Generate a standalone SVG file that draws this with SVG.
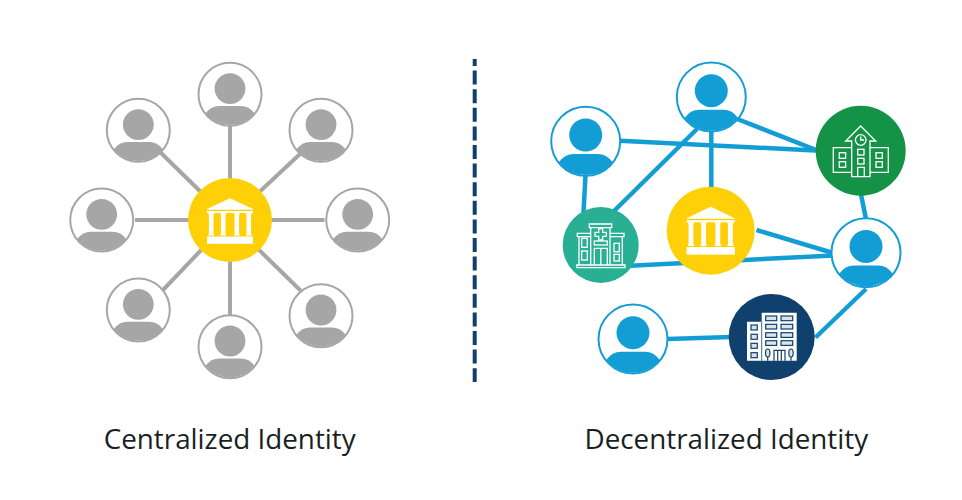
<svg xmlns="http://www.w3.org/2000/svg" width="962" height="500" viewBox="0 0 962 500">
<style>
.lbl{font-family:"Open Sans","Noto Sans",sans-serif;font-size:27.8px;fill:#1a1f24;text-anchor:middle}
.cg{stroke:#a6a6a6;stroke-width:4;fill:none}
.cb{stroke:#129ed5;stroke-width:4.5;fill:none}
.ring{fill:#fff;stroke-width:2}
.ic{fill:none;stroke:#fff;stroke-width:1.3}
.win{fill:#dbe3ea;stroke:#10406d;stroke-width:1.2}
.gray{color:#a6a6a6}
.blue{color:#129ed5}
</style>
<defs>
<g id="p32">
<circle r="31.5" class="ring" stroke="currentColor"/>
<circle cy="-5.7" r="15.4" fill="currentColor"/>
<path d="M-24.5 19Q-19 11.7-11 11.7H11Q19 11.7 24.5 19A31.5 31.5 0 0 1-24.5 19Z" fill="currentColor"/>
</g>
<g id="p35">
<circle r="34.5" class="ring" stroke="currentColor"/>
<circle cy="-6.300" r="16.500" fill="currentColor"/>
<path d="M-26.800 21Q-21 12.700-12 12.700H12Q21 12.700 26.800 21A34.500 34.500 0 0 1-26.800 21Z" fill="currentColor"/>
</g>
<g id="bank" fill="#fff">
<path d="M0-22.300L23-11.500V-10.800H-23V-11.500Z"/>
<rect x="-23" y="-9.500" width="46" height="2"/>
<path d="M-21.800-7.500H-15.800L-16.500-5.500V12.500L-15.800 15H-21.800L-21.100 12.500V-5.500ZM-9.800-7.500H-3.800L-4.500-5.500V12.500L-3.800 15H-9.800L-9.100 12.500V-5.500ZM3.800-7.500H9.800L9.100-5.500V12.500L9.800 15H3.800L4.500 12.500V-5.500ZM15.800-7.500H21.800L21.100-5.500V12.500L21.800 15H15.800L16.500 12.500V-5.500Z"/>
<rect x="-23" y="16" width="46" height="7.300"/>
</g>
</defs>
<g id="connectors">
<g class="cg">
<line x1="230" y1="120" x2="230" y2="185"/>
<line x1="230" y1="255" x2="230" y2="318"/>
<line x1="135" y1="220" x2="195" y2="220"/>
<line x1="265" y1="220" x2="324.500" y2="220"/>
<line x1="160" y1="152" x2="205" y2="196"/>
<line x1="300" y1="154" x2="255" y2="196"/>
<line x1="163" y1="290" x2="205" y2="246"/>
<line x1="300.500" y1="290.500" x2="255" y2="246"/>
</g>
<g class="cb">
<line x1="620" y1="140.700" x2="820" y2="150.700"/>
<line x1="736" y1="118.500" x2="820" y2="151.500"/>
<line x1="697" y1="129" x2="612" y2="213"/>
<line x1="711.300" y1="130" x2="711.300" y2="192"/>
<line x1="585.500" y1="175" x2="583.500" y2="213"/>
<line x1="860.500" y1="192" x2="866" y2="219"/>
<line x1="756.500" y1="230" x2="833" y2="253"/>
<line x1="630" y1="265.800" x2="833" y2="255.500"/>
<line x1="866" y1="289" x2="815.500" y2="337.500"/>
<line x1="667" y1="339" x2="731" y2="337"/>
</g>
<line x1="474.700" y1="59" x2="474.700" y2="382" stroke="#0f3f6e" stroke-width="4" stroke-dasharray="14 4.600" stroke-dashoffset="7"/>
</g>
<g id="user-c1" class="gray"><use href="#p32" x="230" y="94.300"/></g>
<g id="user-c2" class="gray"><use href="#p32" x="138.300" y="130.300"/></g>
<g id="user-c3" class="gray"><use href="#p32" x="321" y="130.300"/></g>
<g id="user-c4" class="gray"><use href="#p32" x="101.700" y="220"/></g>
<g id="user-c5" class="gray"><use href="#p32" x="357.700" y="220"/></g>
<g id="user-c6" class="gray"><use href="#p32" x="138.300" y="310"/></g>
<g id="user-c7" class="gray"><use href="#p32" x="321" y="315.700"/></g>
<g id="user-c8" class="gray"><use href="#p32" x="230" y="346.700"/></g>
<g id="bank-c"><circle cx="230" cy="220" r="42" fill="#ffd008"/><use href="#bank" x="230" y="220.500"/></g>
<g id="user-d1" class="blue"><use href="#p35" x="711.300" y="97"/></g>
<g id="user-d2" class="blue"><use href="#p35" x="585.700" y="141.300"/></g>
<g id="user-d3" class="blue"><use href="#p35" x="866" y="252.700"/></g>
<g id="user-d4" class="blue"><use href="#p35" x="633" y="339"/></g>
<g id="bank-d"><circle cx="710.700" cy="230.700" r="44" fill="#ffd008"/><use href="#bank" transform="translate(710.700 230.200) scale(1.050)"/></g>
<g id="school"><circle cx="860.700" cy="150.700" r="45" fill="#149347"/>
<g class="ic">
<path d="M851.700 176.700V141H845.700L860.700 126L875.700 141H870V176.700ZM851.700 147.700H833.300V172.300H851.700M870 147.700H888.300V172.300H870"/>
<circle cx="860.700" cy="140" r="5.300"/><path d="M860.700 136.500V140H864"/>
<rect x="857.700" y="149.300" width="6.300" height="5.700"/><rect x="857.700" y="158.300" width="6.300" height="5.700"/>
<path d="M857.700 176.700V167.300H864.300V176.700"/>
<rect x="839.300" y="152.700" width="6.300" height="5.600"/><rect x="839.300" y="161.700" width="6.300" height="5.600"/>
<rect x="876" y="152.700" width="6.300" height="5.600"/><rect x="876" y="161.700" width="6.300" height="5.600"/>
</g></g>
<g id="hospital"><circle cx="600.700" cy="245" r="38" fill="#29b094"/>
<g class="ic">
<path d="M590.700 227.700V265M610 227.700V265M589.300 224H611.700V227.700H589.300ZM577.300 233.300H590.700V236.700H577.300ZM610 233.300H624V236.700H610ZM579 236.700V265M622.300 236.700V265M576.700 265H625V267.700H576.700Z"/>
<path d="M598.700 228.700H602.700V232.300H606.300V236.300H602.700V240H598.700V236.300H595V232.300H598.700Z"/>
<rect x="594.300" y="241" width="13" height="4"/>
<path d="M594.300 265V248.300H607.300V265M600.800 248.300V265"/>
<rect x="581.700" y="238.300" width="5.600" height="9"/><rect x="581.700" y="251" width="5.600" height="9"/>
<rect x="614" y="243.300" width="5.300" height="8.400"/><rect x="614" y="254.300" width="5.300" height="6.700"/>
</g></g>
<g id="office"><circle cx="771.700" cy="337" r="43" fill="#10406d"/>
<path d="M761.700 312.700H796.700V360.700H761.700ZM747 321.700H761.700V360.700H747Z" fill="#fff"/>
<path d="M761.700 321.700V360.700" stroke="#10406d" stroke-width="0.800"/>
<g class="win">
<rect x="765.700" y="316" width="11" height="4.700"/><rect x="781" y="316" width="11.700" height="4.700"/>
<rect x="765.700" y="324.300" width="11" height="4.700"/><rect x="781" y="324.300" width="11.700" height="4.700"/>
<rect x="765.700" y="332.700" width="11" height="4.700"/><rect x="781" y="332.700" width="11.700" height="4.700"/>
<rect x="765.700" y="340.700" width="11" height="4.700"/><rect x="781" y="340.700" width="11.700" height="4.700"/>
<rect x="751" y="325" width="6.300" height="5"/><rect x="751" y="334.300" width="6.300" height="5"/>
<rect x="751" y="343.300" width="6.300" height="5"/><rect x="751" y="352.700" width="6.300" height="5"/>
<ellipse cx="767.700" cy="353" rx="2.200" ry="4"/><ellipse cx="791" cy="353" rx="2.200" ry="4"/>
</g>
<path d="M767.700 357V360.700M791 357V360.700M774 360.700V350.300H785V360.700M777.700 350.300V360.700M781.300 350.300V360.700" fill="none" stroke="#10406d" stroke-width="1.200"/>
</g>
<text class="lbl" x="229.700" y="448.500">Centralized Identity</text>
<text class="lbl" x="726.300" y="448.500">Decentralized Identity</text>
</svg>
